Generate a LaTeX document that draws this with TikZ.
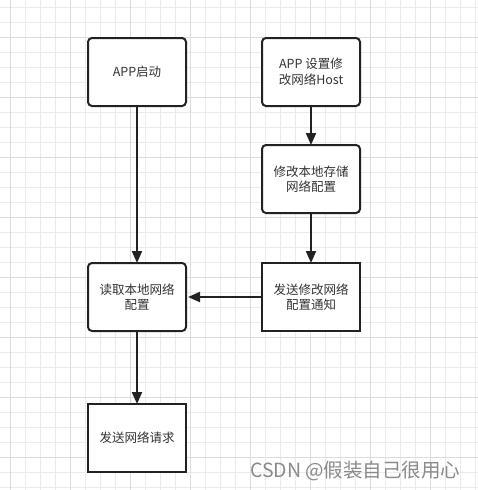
\documentclass[tikz,border=0pt]{standalone}
\usepackage{fontspec}
\usepackage{xcolor}
\usepackage{tikz}
\usetikzlibrary{arrows.meta,positioning}
\newfontfamily\cjk{Noto Sans CJK SC}
\definecolor{ink}{HTML}{222222}
\definecolor{txt}{HTML}{333333}
\definecolor{gridminor}{HTML}{EBEBEB}
\definecolor{gridmajor}{HTML}{DCDCDC}
\definecolor{mark}{HTML}{8A8A8A}

\begin{document}
\begin{tikzpicture}[x=1pt,y=-1pt,>={Triangle[length=12pt,width=10pt]},
  box/.style={draw=ink,line width=2pt,rounded corners=4pt,fill=white,align=center,outer sep=0pt,
    minimum width=98pt,minimum height=68pt,text=txt,font=\cjk\fontsize{12.5}{15.5}\selectfont},
  sqbox/.style={box,sharp corners},
  flow/.style={->,draw=ink,line width=2pt}]
  \useasboundingbox (0,0) rectangle (478,490);
  \fill[white] (0,0) rectangle (478,490);
  % background grid
  \foreach \k in {0,...,31} \draw[gridminor,line width=1pt] ({10.7+15*\k},0) -- ({10.7+15*\k},490);
  \foreach \k in {0,...,32} \draw[gridminor,line width=1pt] (0,{7.3+15*\k}) -- (478,{7.3+15*\k});
  \foreach \k in {0,...,7} \draw[gridmajor,line width=1pt] ({10.7+60*\k},0) -- ({10.7+60*\k},490);
  \foreach \k in {0,...,7} \draw[gridmajor,line width=1pt] (0,{37.3+60*\k}) -- (478,{37.3+60*\k});
  % boxes
  \node[box] (start) at (137,72) {APP启动};
  \node[box,right=76pt of start] (sethost) {APP 设置修\\改网络Host};
  \node[box,below=39pt of sethost] (save) {修改本地存储\\网络配置};
  \node[sqbox,below=50pt of save] (notify) {发送修改网络\\配置通知};
  \node[box] (read) at (137,297) {读取本地网络\\配置};
  \node[sqbox,below=73pt of read] (request) {发送网络请求};
  \node[font=\cjk\fontsize{19.5}{21}\selectfont,text=mark,anchor=east] (wm) at (464,471) {CSDN @假装自己很用心};
  % connectors
  \draw[flow] (start) -- (read);
  \draw[flow] (sethost) -- (save);
  \draw[flow] (save) -- (notify);
  \draw[flow,shorten >=2pt] (notify) -- (read);
  \draw[flow] (read) -- (request);
\end{tikzpicture}
\end{document}
